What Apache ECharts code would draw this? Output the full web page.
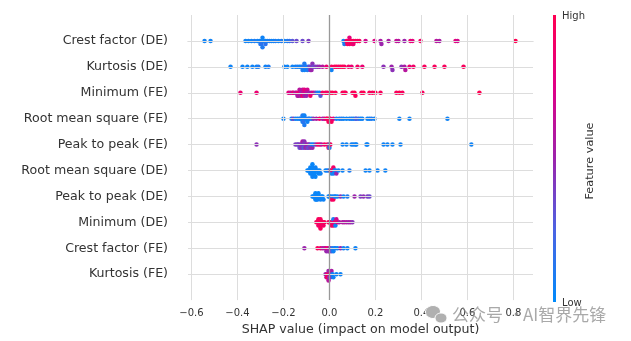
<!DOCTYPE html>
<html>
<head>
<meta charset="utf-8">
<script src="https://cdn.jsdelivr.net/npm/echarts@6/dist/echarts.min.js"></script>
<style>
  html, body { margin: 0; padding: 0; background: #ffffff; }
  #chart { width: 631px; height: 341px; }
</style>
</head>
<body>
<div id="chart"></div>
<script>
// Feature names, top to bottom (ranked by mean |SHAP|)
const features = [
  'Crest factor (DE)', 'Kurtosis (DE)', 'Minimum (FE)', 'Root mean square (FE)',
  'Peak to peak (FE)', 'Root mean square (DE)', 'Peak to peak (DE)',
  'Minimum (DE)', 'Crest factor (FE)', 'Kurtosis (FE)'
];

// x-axis tick values
const tickValues = [-0.6, -0.4, -0.2, 0.0, 0.2, 0.4, 0.6, 0.8];

// SHAP values and normalised feature values (0 = low, 1 = high) per feature
const shapCrestDE = [-0.543, -0.517, -0.365, -0.352, -0.339, -0.326, -0.313, -0.304, -0.300, -0.296, -0.296, -0.291, -0.291, -0.287, -0.278, -0.278, -0.270, -0.261, -0.252, -0.243, -0.235, -0.222, -0.209, -0.196, -0.183, -0.174, -0.161, -0.143, -0.117, -0.091, 0.061, 0.065, 0.074, 0.078, 0.083, 0.087, 0.087, 0.091, 0.096, 0.100, 0.104, 0.104, 0.113, 0.122, 0.130, 0.157, 0.196, 0.222, 0.226, 0.257, 0.291, 0.300, 0.326, 0.352, 0.361, 0.396, 0.465, 0.478, 0.548, 0.557, 0.809];
const featCrestDE = [0.05, 0.05, 0.05, 0.05, 0.05, 0.1, 0.05, 0.05, 0.1, 0.05, 0.15, 0.05, 0.1, 0.05, 0.05, 0.15, 0.05, 0.1, 0.05, 0.05, 0.1, 0.05, 0.1, 0.05, 0.1, 0.15, 0.3, 0.35, 0.35, 0.4, 0.05, 0.1, 0.9, 0.95, 1, 0.9, 0.8, 0.95, 1, 0.9, 0.95, 0.85, 0.95, 0.9, 0.95, 0.7, 0.75, 0.55, 0.5, 0.55, 0.65, 0.6, 0.5, 0.85, 0.8, 0.9, 0.6, 0.55, 0.8, 0.7, 1];

const shapKurtDE = [-0.430, -0.378, -0.357, -0.335, -0.317, -0.309, -0.278, -0.265, -0.196, -0.183, -0.161, -0.148, -0.139, -0.130, -0.122, -0.117, -0.113, -0.109, -0.109, -0.104, -0.100, -0.096, -0.091, -0.087, -0.083, -0.078, -0.078, -0.074, -0.070, -0.061, -0.052, -0.043, -0.030, -0.013, 0.009, 0.009, 0.022, 0.030, 0.039, 0.048, 0.057, 0.065, 0.083, 0.096, 0.122, 0.143, 0.235, 0.270, 0.274, 0.313, 0.326, 0.330, 0.348, 0.365, 0.413, 0.457, 0.500, 0.583];
const featKurtDE = [0.05, 0.05, 0.05, 0.05, 0.05, 0.1, 0.05, 0.1, 0.05, 0.05, 0.05, 0.05, 0.1, 0.05, 0.05, 0.1, 0.15, 0.05, 0.1, 0.15, 0.05, 0.1, 0.15, 0.35, 0.45, 0.4, 0.5, 0.45, 0.35, 0.4, 0.45, 0.5, 0.6, 0.85, 0.95, 0.05, 0.95, 1, 0.9, 0.95, 1, 0.95, 0.9, 0.85, 0.9, 0.85, 0.45, 0.5, 0.45, 0.45, 0.55, 0.6, 0.85, 0.9, 0.95, 0.95, 0.95, 0.95];

const shapMinFE = [-0.387, -0.317, -0.178, -0.170, -0.161, -0.157, -0.148, -0.143, -0.139, -0.135, -0.135, -0.130, -0.126, -0.126, -0.122, -0.117, -0.117, -0.113, -0.109, -0.109, -0.104, -0.100, -0.100, -0.096, -0.087, -0.083, -0.078, -0.070, -0.061, -0.052, -0.043, -0.039, -0.030, -0.017, -0.009, 0.004, 0.013, 0.026, 0.057, 0.065, 0.070, 0.100, 0.109, 0.113, 0.139, 0.148, 0.174, 0.187, 0.200, 0.222, 0.291, 0.304, 0.317, 0.404, 0.652];
const featMinFE = [0.85, 0.85, 0.8, 0.7, 0.6, 0.85, 0.55, 0.7, 0.5, 0.85, 0.6, 0.6, 0.75, 0.55, 0.5, 0.9, 0.6, 0.65, 0.55, 0.8, 0.8, 0.6, 0.5, 0.7, 0.5, 0.9, 0.6, 0.75, 0.4, 0.1, 0.05, 0.3, 0.9, 0.95, 0.9, 0.95, 1, 0.95, 0.95, 1, 0.95, 0.95, 1, 0.95, 0.95, 1, 0.95, 0.95, 1, 0.95, 0.95, 1, 0.95, 0.95, 1];

const shapRmsFE = [-0.200, -0.165, -0.157, -0.148, -0.139, -0.130, -0.126, -0.122, -0.117, -0.117, -0.113, -0.113, -0.109, -0.109, -0.104, -0.100, -0.096, -0.091, -0.087, -0.078, -0.070, -0.057, -0.043, -0.030, -0.022, -0.013, -0.009, -0.004, 0.000, 0.004, 0.009, 0.017, 0.030, 0.043, 0.052, 0.061, 0.074, 0.087, 0.096, 0.104, 0.113, 0.117, 0.126, 0.135, 0.143, 0.165, 0.174, 0.183, 0.196, 0.304, 0.348, 0.513];
const featRmsFE = [0.05, 0.05, 0.4, 0.05, 0.05, 0.05, 0.1, 0.05, 0.05, 0.1, 0.05, 0.15, 0.05, 0.1, 0.05, 0.1, 0.05, 0.05, 0.1, 0.05, 0.45, 0.55, 0.9, 0.5, 0.7, 0.9, 0.95, 0.95, 1, 0.9, 0.95, 0.8, 0.05, 0.05, 0.1, 0.05, 0.05, 0.05, 0.1, 0.05, 0.2, 0.25, 0.2, 0.05, 0.05, 0.05, 0.05, 0.1, 0.05, 0.05, 0.05, 0.05];

const shapP2pFE = [-0.317, -0.148, -0.139, -0.135, -0.130, -0.126, -0.122, -0.122, -0.117, -0.113, -0.113, -0.109, -0.104, -0.104, -0.100, -0.096, -0.091, -0.091, -0.087, -0.083, -0.078, -0.074, -0.070, -0.061, -0.052, -0.043, -0.035, -0.022, -0.009, -0.004, 0.000, 0.000, 0.004, 0.057, 0.074, 0.096, 0.104, 0.113, 0.117, 0.161, 0.165, 0.235, 0.252, 0.274, 0.309, 0.617];
const featP2pFE = [0.45, 0.4, 0.45, 0.35, 0.35, 0.5, 0.4, 0.45, 0.55, 0.4, 0.3, 0.45, 0.35, 0.5, 0.5, 0.4, 0.6, 0.35, 0.35, 0.45, 0.1, 0.5, 0.05, 0.4, 0.85, 0.9, 0.6, 0.9, 0.95, 0.9, 0.05, 0.1, 0.95, 0.05, 0.05, 0.05, 0.05, 0.05, 0.05, 0.05, 0.05, 0.05, 0.05, 0.05, 0.05, 0.05];

const shapRmsDE = [-0.096, -0.091, -0.087, -0.083, -0.083, -0.078, -0.078, -0.074, -0.074, -0.074, -0.070, -0.070, -0.065, -0.065, -0.061, -0.061, -0.057, -0.052, -0.048, -0.043, -0.039, -0.017, -0.009, 0.000, 0.004, 0.009, 0.013, 0.017, 0.017, 0.022, 0.026, 0.030, 0.039, 0.057, 0.087, 0.157, 0.174, 0.209, 0.243];
const featRmsDE = [0.03, 0.03, 0.05, 0.03, 0.03, 0.05, 0.03, 0.03, 0.05, 0.03, 0.03, 0.05, 0.03, 0.03, 0.05, 0.03, 0.03, 0.05, 0.03, 0.03, 0.05, 0.05, 0.05, 0.05, 0.9, 0.05, 0.95, 0.05, 0.9, 0.05, 0.05, 0.5, 0.05, 0.05, 0.1, 0.05, 0.05, 0.05, 0.05];

const shapP2pDE = [-0.074, -0.070, -0.065, -0.061, -0.061, -0.057, -0.057, -0.052, -0.052, -0.048, -0.043, -0.039, -0.035, -0.030, -0.026, -0.004, 0.000, 0.004, 0.009, 0.013, 0.017, 0.022, 0.026, 0.035, 0.048, 0.061, 0.078, 0.109, 0.135, 0.148, 0.165, 0.174];
const featP2pDE = [0.03, 0.03, 0.05, 0.03, 0.03, 0.05, 0.03, 0.03, 0.05, 0.03, 0.03, 0.05, 0.03, 0.03, 0.05, 0.05, 0.05, 0.05, 0.9, 0.05, 0.95, 0.1, 0.05, 0.05, 0.45, 0.05, 0.1, 0.5, 0.4, 0.45, 0.4, 0.35];

const shapMinDE = [-0.057, -0.052, -0.048, -0.048, -0.043, -0.043, -0.039, -0.039, -0.035, -0.035, -0.030, -0.026, -0.022, -0.004, 0.000, 0.004, 0.009, 0.013, 0.017, 0.017, 0.022, 0.026, 0.026, 0.030, 0.035, 0.043, 0.057, 0.065, 0.074, 0.083, 0.091, 0.100];
const featMinDE = [0.95, 0.95, 0.9, 0.95, 0.95, 0.9, 0.95, 0.95, 0.9, 0.95, 0.95, 0.9, 0.95, 0.9, 0.95, 0.9, 0.95, 0.85, 0.9, 0.1, 0.8, 0.9, 0.05, 0.7, 0.85, 0.55, 0.6, 0.55, 0.6, 0.5, 0.55, 0.45];

const shapCrestFE = [-0.109, -0.052, -0.039, -0.030, -0.022, -0.017, -0.013, -0.009, -0.004, 0.000, 0.000, 0.004, 0.009, 0.013, 0.017, 0.022, 0.026, 0.035, 0.048, 0.061, 0.078, 0.113];
const featCrestFE = [0.5, 0.95, 0.9, 0.6, 0.55, 0.7, 0.5, 0.85, 0.45, 0.6, 0.5, 0.4, 0.3, 0.1, 0.05, 0.1, 0.05, 0.05, 0.5, 0.05, 0.05, 0.05];

const shapKurtFE = [-0.017, -0.013, -0.009, -0.009, -0.004, -0.004, 0.000, 0.000, 0.004, 0.004, 0.009, 0.013, 0.017, 0.030, 0.048];
const featKurtFE = [0.5, 0.6, 0.9, 0.95, 0.5, 0.6, 0.95, 0.45, 0.5, 0.4, 0.55, 0.05, 0.05, 0.05, 0.05];

const rowShap = [shapCrestDE, shapKurtDE, shapMinFE, shapRmsFE, shapP2pFE, shapRmsDE, shapP2pDE, shapMinDE, shapCrestFE, shapKurtFE];
const rowFeat = [featCrestDE, featKurtDE, featMinFE, featRmsFE, featP2pFE, featRmsDE, featP2pDE, featMinDE, featCrestFE, featKurtFE];

// Low -> high feature value colour ramp
const rampColors = ['#008bfb', '#4b63e3', '#9c23ac', '#e00086', '#ff0052'];

// Beeswarm: quantise SHAP values into bins and stack points in each bin
// alternately above and below the feature's baseline.
const BIN_W = 0.007;
const STEP = 0.12;
function swarmOffsets(values) {
  const order = values.map((v, i) => i).sort((a, b) => values[a] - values[b] || a - b);
  const offs = new Array(values.length).fill(0);
  let lastBin = null, layer = 0;
  for (const i of order) {
    const bin = Math.round(values[i] / BIN_W);
    if (bin !== lastBin) layer = 0;
    offs[i] = Math.ceil(layer / 2) * ((layer % 2) * 2 - 1) * STEP;
    layer++;
    lastBin = bin;
  }
  return offs;
}

const points = [];
rowShap.forEach((vals, r) => {
  const offs = swarmOffsets(vals);
  vals.forEach((v, i) => points.push([v, r + offs[i], rowFeat[r][i]]));
});

const FONT = 'DejaVu Sans';
const TEXT = '#333333';

const chart = echarts.init(document.getElementById('chart'), null, { renderer: 'canvas' });

const fmtTick = v => (v < 0 ? '\u2212' : '') + Math.abs(v).toFixed(1);

chart.setOption({
  animation: false,
  backgroundColor: '#ffffff',
  grid: { left: 188, right: 98, top: 15, bottom: 39, containLabel: false },
  xAxis: {
    type: 'value',
    min: -0.615,
    max: 0.885,
    splitLine: { show: false },
    axisLine: { show: true, lineStyle: { color: '#cccccc', width: 1 } },
    axisTick: { show: true, customValues: tickValues, length: 4, lineStyle: { color: '#999999' } },
    axisLabel: { customValues: tickValues, formatter: fmtTick, fontFamily: FONT, fontSize: 10, color: TEXT, margin: 8 },
    name: 'SHAP value (impact on model output)',
    nameLocation: 'middle',
    nameGap: 19,
    nameTextStyle: { fontFamily: FONT, fontSize: 12.6, color: TEXT }
  },
  yAxis: {
    type: 'value',
    inverse: true,
    min: -1,
    max: 10,
    interval: 1,
    axisLine: { show: false },
    axisTick: { show: false },
    splitLine: { show: false },
    axisLabel: {
      formatter: v => (features[v] !== undefined ? features[v] : ''),
      fontFamily: FONT, fontSize: 12.6, color: TEXT, margin: 20
    }
  },
  visualMap: {
    show: false,
    type: 'continuous',
    seriesIndex: 1,
    dimension: 2,
    min: 0,
    max: 1,
    inRange: { color: rampColors }
  },
  series: [
    {
      // reference lines: one per feature row, one per x tick, and the zero line
      type: 'scatter',
      data: [],
      z: 1,
      silent: true,
      markLine: {
        silent: true,
        symbol: ['none', 'none'],
        label: { show: false },
        animation: false,
        data: [
          ...features.map((f, i) => ({ yAxis: i, lineStyle: { color: '#dddddd', width: 1, type: 'solid' } })),
          ...tickValues.filter(t => t !== 0).map(t => ({ xAxis: t, lineStyle: { color: '#dddddd', width: 1, type: 'solid' } })),
          { xAxis: 0, lineStyle: { color: '#999999', width: 1.3, type: 'solid' } }
        ]
      }
    },
    {
      type: 'scatter',
      z: 3,
      symbol: 'circle',
      symbolSize: 4.5,
      itemStyle: { opacity: 1 },
      data: points
    }
  ],
  graphic: [
    {
      type: 'rect',
      shape: { x: 553, y: 15, width: 3, height: 287 },
      style: {
        fill: new echarts.graphic.LinearGradient(0, 1, 0, 0,
          rampColors.map((c, i) => ({ offset: i / (rampColors.length - 1), color: c })))
      }
    },
    { type: 'text', x: 562, y: 16, style: { text: 'High', font: '10px "DejaVu Sans"', fill: TEXT, verticalAlign: 'middle' } },
    { type: 'text', x: 562, y: 303, style: { text: 'Low', font: '10px "DejaVu Sans"', fill: TEXT, verticalAlign: 'middle' } },
    {
      type: 'text', x: 590, y: 161, rotation: Math.PI / 2,
      style: { text: 'Feature value', font: '11.3px "DejaVu Sans"', fill: TEXT, align: 'center', verticalAlign: 'middle' }
    },
    // WeChat-style watermark
    { type: 'ellipse', shape: { cx: 433, cy: 312, rx: 7.5, ry: 6.5 }, style: { fill: '#b0b0b0', stroke: '#ffffff', lineWidth: 1 }, z: 10 },
    { type: 'ellipse', shape: { cx: 441, cy: 318, rx: 6, ry: 5 }, style: { fill: '#b0b0b0', stroke: '#ffffff', lineWidth: 1 }, z: 10 },
    { type: 'text', x: 452, y: 315, z: 10, style: { text: '公众号', font: '17px "Noto Sans CJK SC"', fill: 'rgba(140,140,140,0.75)', verticalAlign: 'middle' } },
    { type: 'text', x: 508, y: 315, z: 10, style: { text: '·', font: '17px "Noto Sans CJK SC"', fill: 'rgba(140,140,140,0.75)', verticalAlign: 'middle' } },
    { type: 'text', x: 523, y: 315, z: 10, style: { text: 'AI智界先锋', font: '17px "Noto Sans CJK SC"', fill: 'rgba(140,140,140,0.75)', verticalAlign: 'middle' } }
  ]
});
</script>
</body>
</html>
